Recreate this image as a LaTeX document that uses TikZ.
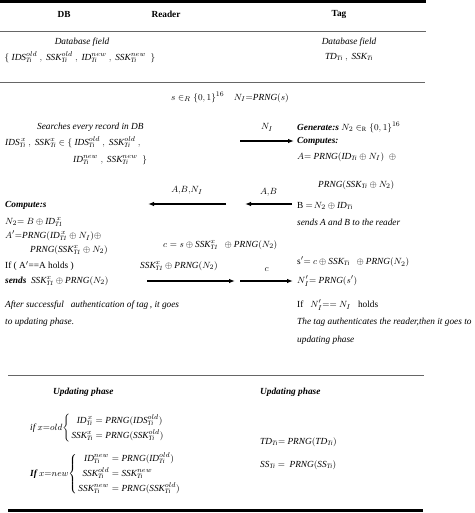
\documentclass[tikz,border=0pt]{standalone}
\usepackage{amsmath,amssymb}
\usepackage{fontspec}
\setmainfont{Liberation Serif}
\usetikzlibrary{arrows.meta, positioning}

\newcommand{\Ti}{_{\mathit{Ti}}}
\newcommand{\prng}{\mathit{PRNG}}

\begin{document}
\begin{tikzpicture}[
    x=1pt, y=-1pt,
    txt/.style={anchor=west, inner sep=0pt, font=\fontsize{9.3}{11}\selectfont\itshape},
    rom/.style={anchor=west, inner sep=0pt, font=\fontsize{9.3}{11}\selectfont},
    hdr/.style={inner sep=0pt, font=\fontsize{9.3}{11}\selectfont\bfseries},
    lbl/.style={inner sep=0pt, font=\fontsize{9.3}{11}\selectfont\itshape},
    msg/.style={-{Latex[length=6pt,width=4.5pt]}, line width=1.1pt},
    rulethin/.style={draw=gray!80!black, line width=0.9pt},
    rulethick/.style={draw=black, line width=3pt}
]
\useasboundingbox (0,0) rectangle (474,513);

% -- HEADER --
\draw[rulethick] (0,1.5) -- (426,1.5);
\node[hdr] (hdb) at (64,14) {DB};
\node[hdr] (hreader) at (166,14) {Reader};
\node[hdr] (htag) at (339,14) {Tag};
\draw[rulethin] (0,31) -- (426,31);

% -- DATABASE FIELDS --
\node[lbl] (dbfield) at (82,42) {Database field};
\node[lbl] (dbset) at (80,57) {$\{\ \mathit{IDS}^{old}\Ti\ ,\ \mathit{SSK}^{old}\Ti\ ,\ \mathit{ID}^{new}\Ti\ ,\ \mathit{SSK}^{new}\Ti\ \ \}$};
\node[lbl] (tagfield) at (349,42) {Database field};
\node[lbl] (tagset) at (349,57) {$\mathit{TD}\Ti\ ,\ \mathit{SSK}\Ti$};
\draw[rulethin] (0,82) -- (425,82);

% -- ROUND 1: reader sends N_I --
\node[txt] (rand) at (171,97) {$s\in_R\{0,1\}^{16}\quad N_I{=}\prng(s)$};
\node[txt] (search) at (37,127) {Searches every record in DB};
\node[txt] (dbmatch) at (5,142) {$\mathit{IDS}^{\,x}\Ti\ ,\ \mathit{SSK}^{x}\Ti\in\{\ \mathit{IDS}^{old}\Ti\ ,\ \mathit{SSK}^{old}\Ti\ ,$};
\node[txt] (dbnew) at (73,160) {$\mathit{ID}^{new}\Ti\ ,\ \mathit{SSK}^{new}\Ti\ \ \}$};

\node[txt] (gen) at (297,127) {\textbf{Generate:s} $N_2\in_{\mathrm{R}}\{0,1\}^{16}$};
\node[txt] (comp) at (297,141) {\textbf{Computes:}};
\node[txt] (aeq) at (297,157) {$A{=}\ \prng(\mathit{ID}\Ti\oplus N_I)\ \ \oplus$};
\node[txt] (aprng) at (318,185) {$\prng(\mathit{SSK}\Ti\oplus N_2)$};

\coordinate (n1a) at (240,141);
\coordinate (n1b) at (294,141);
\draw[msg] (n1a) -- node[lbl, above=9pt] {$N_I$} (n1b);

% -- ROUND 2: tag sends A,B --
\node[rom] (beq) at (297,206) {B $=\!N_2\oplus\mathit{ID}\Ti$};
\node[txt] (sendab) at (297,222) {sends A and B to the reader};

\coordinate (aba) at (292,204);
\coordinate (abb) at (245,204);
\draw[msg] (aba) -- node[lbl, above=7pt] {$A{,}B$} (abb);
\coordinate (abna) at (226,204);
\coordinate (abnb) at (148,204);
\draw[msg] (abna) -- node[lbl, above=9pt] {$A{,}B{,}N_I$} (abnb);

\node[txt] (rcomp) at (5,205) {\textbf{Compute:s}};
\node[txt] (rn2) at (5,222) {$N_2{=}\ B\oplus\mathit{ID}^{\,x}_{\mathit{T1}}$};
\node[txt] (raprime) at (5,236) {$A'{=}\prng(\mathit{ID}^{\,x}_{\mathit{T1}}\oplus N_I)\oplus$};
\node[txt] (raprng) at (30,250) {$\prng(\mathit{SSK}^{x}_{\mathit{T1}}\oplus N_2)$};
\node[rom] (rif) at (5,266) {If ( A$'$==A holds )};
\node[txt] (rsend) at (5,281) {\textbf{sends}\ \ $\mathit{SSK}^{x}_{\mathit{T1}}\oplus\prng(N_2)$};

% -- ROUND 3: reader sends c --
\node[txt] (ceq) at (163,245) {$c=s\oplus\mathit{SSK}^{x}_{\mathit{T1}}\ \ \oplus\prng(N_2)$};
\node[txt] (cval) at (140,266) {$\mathit{SSK}^{x}_{\mathit{T1}}\oplus\prng(N_2)$};
\coordinate (ca) at (147,281);
\coordinate (cb) at (235,281);
\draw[msg] (ca) -- (cb);

\node[rom] (sprime) at (297,262) {s$'{=}\ c\oplus\mathit{SSK}\Ti\ \ \oplus\prng(N_2)$};
\coordinate (c2a) at (240,281);
\coordinate (c2b) at (293,281);
\draw[msg] (c2a) -- node[lbl, above=9pt] {$c$} (c2b);
\node[txt] (niprime) at (297,281) {$N_I'{=}\ \prng(s')$};
\node[rom] (niif) at (297,305) {If\ \ \ $N_I'{==}\ N_I$\ \ \ holds};

% -- AUTHENTICATED --
\node[txt] (rdone) at (5,305) {After successful\ \ \ authentication of tag\,,\ it goes};
\node[txt] (rdone2) at (5,322) {to updating phase.};
\node[txt] (tdone) at (297,322) {The tag authenticates the reader,then it goes to};
\node[txt] (tdone2) at (297,340) {updating phase};
\draw[rulethin] (8,375) -- (424,375);

% -- UPDATING PHASE --
\node[txt] (rupd) at (53,392) {\textbf{Updating phase}};
\node[txt] (tupd) at (260,392) {\textbf{Updating phase}};

\node[txt] (ifold) at (30,428) {if $x{=}old\!\left\{\,\begin{array}{@{}r@{\;}l@{}}
  \mathit{ID}^{\,x}\Ti &= \prng(\mathit{IDS}^{old}\Ti)\\[3pt]
  \mathit{SSK}^{x}\Ti &= \prng(\mathit{SSK}^{old}\Ti)
\end{array}\right.$};
\node[txt] (ifnew) at (30,474) {\textbf{If} $x{=}new\!\left\{\,\begin{array}{@{}r@{\;}l@{}}
  \mathit{ID}^{new}\Ti &= \prng(\mathit{ID}^{old}\Ti)\\[3pt]
  \mathit{SSK}^{old}\Ti &= \mathit{SSK}^{new}\Ti\\[3pt]
  \mathit{SSK}^{new}\Ti &= \prng(\mathit{SSK}^{old}\Ti)
\end{array}\right.$};

\node[txt] (tdupd) at (260,442) {$\mathit{TD}\Ti{=}\ \prng(\mathit{TD}\Ti)$};
\node[txt] (ssupd) at (260,465) {$\mathit{SS}\Ti\ {=}\ \ \prng(\mathit{SS}\Ti)$};

\draw[rulethick] (8,510) -- (423,510);
\end{tikzpicture}
\end{document}
